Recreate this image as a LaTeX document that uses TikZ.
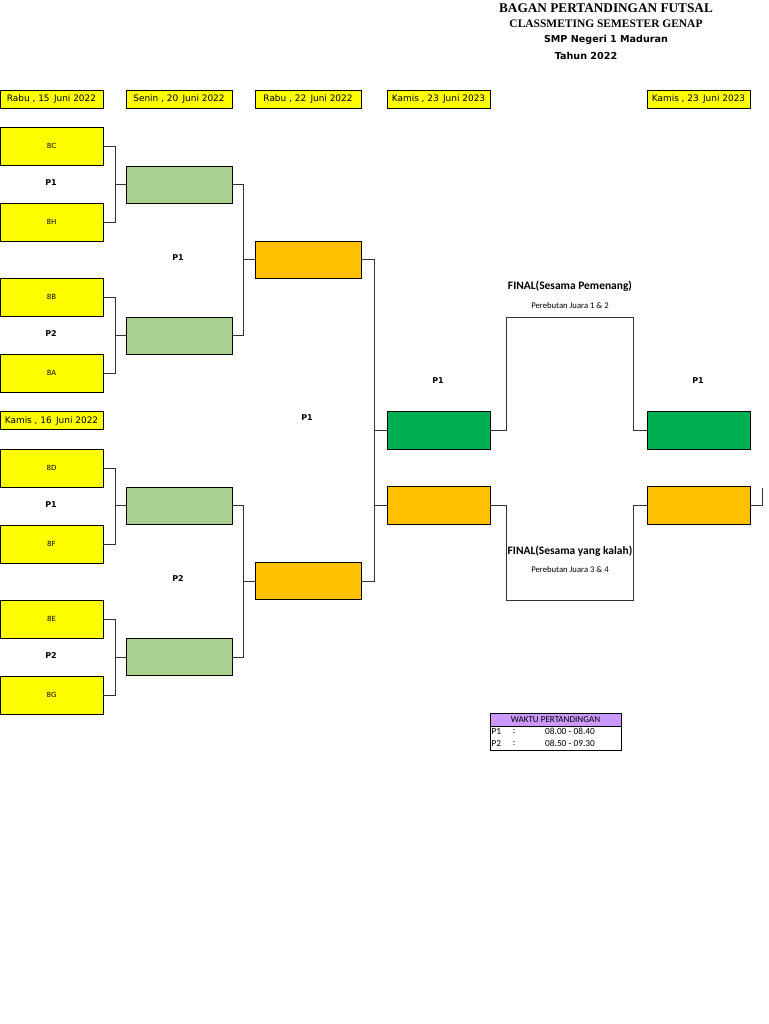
\documentclass[tikz,border=0pt]{standalone}
\usepackage{fontspec}
\setmainfont{Liberation Serif}
\setsansfont{Carlito}
\newfontfamily\dvsans{DejaVu Sans}
\usetikzlibrary{positioning}
\definecolor{teamyellow}{HTML}{FFFF00}
\definecolor{leaf}{HTML}{A9D08E}
\definecolor{amber}{HTML}{FFC000}
\definecolor{winner}{HTML}{00B050}
\definecolor{lilac}{HTML}{CC99FF}

\begin{document}
\begin{tikzpicture}[
    x=0.75pt, y=-0.75pt,
    font=\sffamily\scriptsize,
    team/.style={draw=black, fill=teamyellow, minimum width=77.25pt,
                 minimum height=28.5pt, inner sep=0pt, font=\dvsans\fontsize{5.3}{6}\selectfont},
    datebox/.style={draw=black, fill=teamyellow, minimum height=13.5pt,
                    inner sep=0pt, font=\dvsans\fontsize{6.7}{7}\selectfont},
    round2/.style={draw=black, fill=leaf, minimum width=79.5pt,
                   minimum height=27.75pt, inner sep=0pt},
    round3/.style={round2, fill=amber},
    semi/.style={draw=black, fill=winner, minimum width=77.25pt,
                 minimum height=28.5pt, inner sep=0pt},
    plabel/.style={font=\dvsans\bfseries\fontsize{6}{7}\selectfont},
    cell/.style={font=\sffamily\fontsize{7}{8}\selectfont},
    line/.style={draw=black!80, line width=0.7pt}
]
\useasboundingbox (0,0) rectangle (768,1024);

% title
\node[font=\rmfamily\bfseries\fontsize{9.95}{11}\selectfont] (title) at (606,8)
    {BAGAN PERTANDINGAN FUTSAL};
\node[font=\rmfamily\bfseries\fontsize{8.6}{10}\selectfont] (sub) at (606,24)
    {CLASSMETING SEMESTER GENAP};
\node[font=\dvsans\bfseries\fontsize{7.2}{8}\selectfont] (school) at (606,40)
    {SMP Negeri 1 Maduran};
\node[font=\dvsans\bfseries\fontsize{7.2}{8}\selectfont] (year) at (586,56)
    {Tahun 2022};

% dates
\node[datebox, minimum width=77.25pt] (d1) at (51.5,99) {Rabu , 15\, Juni 2022};
\node[datebox, minimum width=79.5pt] (d2) at (179,99) {Senin , 20\, Juni 2022};
\node[datebox, minimum width=79.5pt] (d3) at (308,99) {Rabu , 22\, Juni 2022};
\node[datebox, minimum width=77.25pt] (d4) at (438.5,99) {Kamis , 23\, Juni 2023};
\node[datebox, minimum width=77.25pt] (d5) at (698.5,99) {Kamis , 23\, Juni 2023};
\node[datebox, minimum width=77.25pt] (d6) at (51.5,420.5) {Kamis , 16\, Juni 2022};

% teams
\node[team] (t8c) at (51.5,146) {8C};
\node[team] (t8h) at (51.5,222) {8H};
\node[team] (t8b) at (51.5,297) {8B};
\node[team] (t8a) at (51.5,373) {8A};
\node[team] (t8d) at (51.5,468) {8D};
\node[team] (t8f) at (51.5,544) {8F};
\node[team] (t8e) at (51.5,619) {8E};
\node[team] (t8g) at (51.5,695) {8G};

\node[plabel] (pa) at (51,183) {P1};
\node[plabel] (pb) at (51,334) {P2};
\node[plabel] (pc) at (51,505) {P1};
\node[plabel] (pd) at (51,656) {P2};

% second round
\node[round2] (g1) at (179,184.5) {};
\node[round2] (g2) at (179,335.5) {};
\node[round2] (g3) at (179,505.5) {};
\node[round2] (g4) at (179,657) {};

\node[plabel] (pe) at (178,258) {P1};
\node[plabel] (pf) at (178,579) {P2};

% third round
\node[round3] (o1) at (308,259.5) {};
\node[round3] (o2) at (308,581) {};
\node[plabel] (pg) at (307,418) {P1};

% semifinal
\node[semi] (s1) at (438.5,430) {};
\node[semi, fill=amber] (s2) at (438.5,505.5) {};
\node[plabel] (ph) at (438,381) {P1};

% finals
\node[semi] (f1) at (698.5,430) {};
\node[semi, fill=amber] (f2) at (698.5,505.5) {};
\node[plabel] (pi) at (698,381) {P1};

\node[font=\sffamily\bfseries\fontsize{8.6}{9}\selectfont] (fin1) at (570,286)
    {FINAL(Sesama Pemenang)};
\node[font=\sffamily\fontsize{6.5}{7}\selectfont] (jr1) at (570,306)
    {Perebutan Juara 1 \& 2};
\node[font=\sffamily\bfseries\fontsize{8.6}{9}\selectfont] (fin2) at (570,551)
    {FINAL(Sesama yang kalah)};
\node[font=\sffamily\fontsize{6.5}{7}\selectfont] (jr2) at (570,570)
    {Perebutan Juara 3 \& 4};

% brackets
\draw[line] (t8c.east) -- ++(12,0) |- (t8h.east);
\draw[line] (g1.west) -- ++(-11,0);
\draw[line] (t8b.east) -- ++(12,0) |- (t8a.east);
\draw[line] (g2.west) -- ++(-11,0);
\draw[line] (t8d.east) -- ++(12,0) |- (t8f.east);
\draw[line] (g3.west) -- ++(-11,0);
\draw[line] (t8e.east) -- ++(12,0) |- (t8g.east);
\draw[line] (g4.west) -- ++(-11,0);

\draw[line] (g1.east) -- ++(11,0) |- (g2.east);
\draw[line] (o1.west) -- ++(-12,0);
\draw[line] (g3.east) -- ++(11,0) |- (g4.east);
\draw[line] (o2.west) -- ++(-12,0);

\draw[line] (o1.east) -- ++(13,0) |- (o2.east);
\draw[line] (s1.west) -- ++(-13,0);
\draw[line] (s2.west) -- ++(-13,0);

\draw[line] (s1.east) -- ++(16,0) |- (633,317) |- (f1.west);
\draw[line] (s2.east) -- ++(16,0) |- (633,600) |- (f2.west);
\draw[line] (f2.east) -- ++(12,0) -- ++(0,-18);

% match times
\node[draw=black, fill=lilac, minimum width=98.25pt, minimum height=9.75pt,
      inner sep=0pt, font=\sffamily\fontsize{6.8}{7}\selectfont] (wt) at (555.5,719.5)
    {WAKTU PERTANDINGAN};
\node[draw=black, minimum width=98.25pt, minimum height=18pt, inner sep=0pt,
      below=0pt of wt] (tbl) {};
\node[cell, anchor=west, inner sep=1pt] (r1a) at (490,731.5) {P1};
\node[cell, inner sep=0pt] (r1b) at (514,731.5) {:};
\node[cell, inner sep=0pt] (r1c) at (570,731.5) {08.00 - 08.40};
\node[cell, anchor=west, inner sep=1pt] (r2a) at (490,743.5) {P2};
\node[cell, inner sep=0pt] (r2b) at (514,743.5) {:};
\node[cell, inner sep=0pt] (r2c) at (570,743.5) {08.50 - 09.30};
\end{tikzpicture}
\end{document}
